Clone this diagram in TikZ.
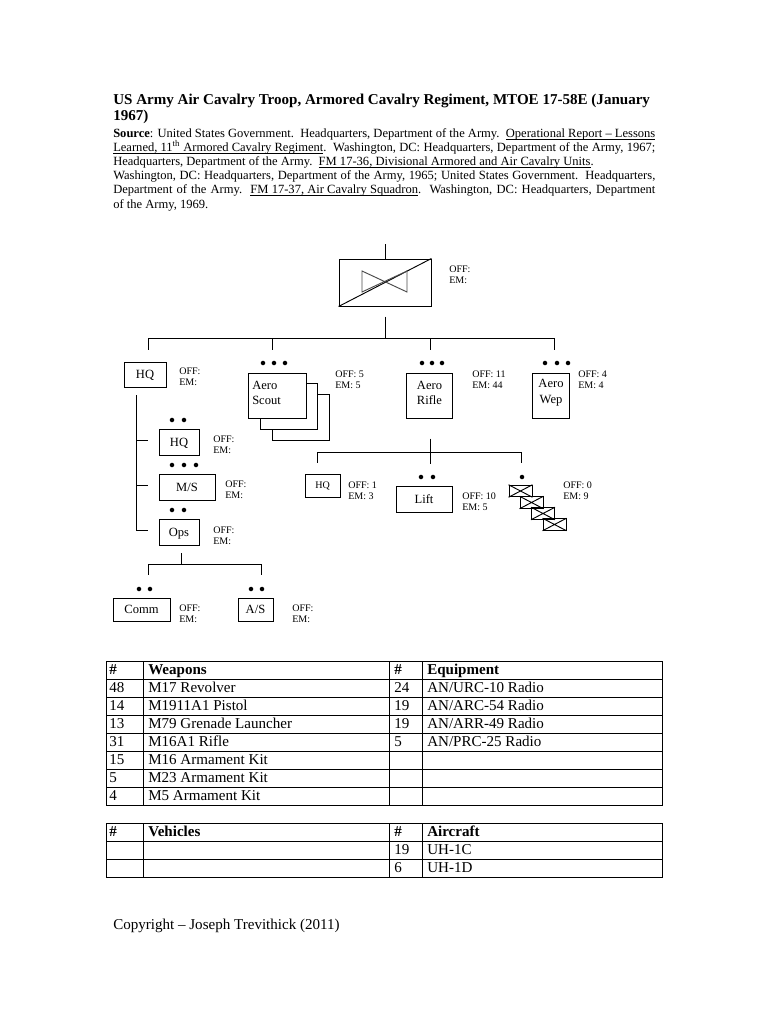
\documentclass[tikz,border=0pt]{standalone}
\usepackage{fontspec}
\setmainfont{Liberation Serif}
\newcommand\myul[1]{\setbox0\hbox{#1}\rlap{\raisebox{-1.7pt}{\rule{\wd0}{0.5pt}}}\box0}
\begin{document}
\begin{tikzpicture}[x=0.796875pt, y=-0.796875pt,
  conn/.style={line width=0.75pt},
  ubox/.style={draw, line width=0.75pt, fill=white, inner sep=0pt, font=\fontsize{10}{12.5}\selectfont, text height=6.8pt, text depth=0pt},
  btxt/.style={inner sep=0pt, font=\fontsize{10}{12.5}\selectfont},
  lbl/.style={anchor=west, inner sep=0pt, align=left, font=\fontsize{8}{9}\selectfont},
  xbox/.style={draw, line width=0.75pt, inner sep=0pt, minimum width=18.3pt, minimum height=9.2pt},
  src/.style={anchor=base west, inner sep=0pt, font=\fontsize{10}{11.5}\selectfont},
  ttl/.style={anchor=base west, inner sep=0pt, font=\bfseries\fontsize{12}{14}\selectfont},
  txt/.style={anchor=base west, inner sep=0pt, font=\fontsize{12}{14}\selectfont},
  htxt/.style={anchor=base west, inner sep=0pt, font=\bfseries\fontsize{12}{14}\selectfont},
  grid/.style={line width=0.6pt}
]
\useasboundingbox (0,0) rectangle (768,1024);

% ---------- header text ----------
\node[ttl] (title1) at (113,105) {US Army Air Cavalry Troop, Armored Cavalry Regiment, MTOE 17-58E (January};
\node[ttl] (title2) at (113,120) {1967)};
\node[src] (s1) at (113,137) {\hbox to 432pt{\textbf{Source}: United States Government.\ \ Headquarters, Department of the Army.\ \ \myul{Operational Report – Lessons}}};
\node[src] (s2) at (113,151.2) {\hbox to 432pt{\myul{Learned, 11\textsuperscript{th} Armored Cavalry Regiment}.\ \ Washington, DC: Headquarters, Department of the Army, 1967;}};
\node[src] (s3) at (113,165.4) {Headquarters, Department of the Army.\ \ \myul{FM 17-36, Divisional Armored and Air Cavalry Units}.};
\node[src] (s4) at (113,179.6) {\hbox to 432pt{Washington, DC: Headquarters, Department of the Army, 1965; United States Government.\ \ Headquarters,}};
\node[src] (s5) at (113,193.8) {\hbox to 432pt{Department of the Army.\ \ \myul{FM 17-37, Air Cavalry Squadron}.\ \ Washington, DC: Headquarters, Department}};
\node[src] (s6) at (113,208) {of the Army, 1969.};

% ---------- troop ----------
\node[ubox, minimum width=73.3pt, minimum height=37.5pt] (troop) at (385,282.5) {};
\draw[conn] (troop.south west) -- (troop.north east);
\draw[line width=0.75pt, gray!60!black] (362,271) -- (362,292) -- (407,271) -- (407,292) -- cycle;
\node[lbl] (troopl) at (449,275) {OFF:\\EM:};
\coordinate (ttop) at (385,244);
\draw[conn] (troop.north) -- (ttop);
\coordinate (tj) at (385,338);
\draw[conn] ([yshift=-8pt]troop.south) -- (tj);
\coordinate (bL) at (148,338);
\coordinate (bS) at (272,338);
\coordinate (bA) at (430,338);
\coordinate (bR) at (554,338);
\draw[conn] (bL) -- (bR);
\draw[conn] (bL) -- ++(0,12);
\draw[conn] (bS) -- ++(0,12);
\draw[conn] (bA) -- ++(0,12);
\draw[conn] (bR) -- ++(0,12);

% ---------- HQ branch ----------
\node[ubox, minimum width=33.5pt, minimum height=19.9pt] (hq) at (145,374.5) {HQ};
\node[lbl] (hql) at (179,377) {OFF:\\EM:};
\coordinate (hv1) at (136,395);
\coordinate (hv2) at (136,530);
\coordinate (ht1) at (136,440);
\coordinate (ht2) at (136,485);
\draw[conn] (hv1) -- (hv2);
\draw[conn] (ht1) -- ++(12,0);
\draw[conn] (ht2) -- ++(12,0);
\draw[conn] (hv2) -- ++(12,0);

\node[ubox, minimum width=31.9pt, minimum height=20.7pt] (subhq) at (179,442) {HQ};
\fill (172,420) circle[radius=1.8pt] (184,420) circle[radius=1.8pt];
\node[lbl] (subhql) at (213,445) {OFF:\\EM:};

\node[ubox, minimum width=44.6pt, minimum height=20.7pt] (ms) at (187,487) {M/S};
\fill (172,465) circle[radius=1.8pt] (184,465) circle[radius=1.8pt] (196,465) circle[radius=1.8pt];
\node[lbl] (msl) at (225,490) {OFF:\\EM:};

\node[ubox, minimum width=31.9pt, minimum height=20.7pt] (ops) at (179,532) {Ops};
\fill (172,510) circle[radius=1.8pt] (184,510) circle[radius=1.8pt];
\node[lbl] (opsl) at (213,535.5) {OFF:\\EM:};

\coordinate (oj) at (181,564);
\coordinate (oL) at (148,564);
\coordinate (oR) at (261,564);
\draw[conn] ([yshift=-6.4pt]ops.south -| oj) -- (oj);
\draw[conn] (oL) -- (oR);
\draw[conn] (oL) -- ++(0,11);
\draw[conn] (oR) -- ++(0,11);

\node[ubox, minimum width=45.4pt, minimum height=18.3pt] (comm) at (141.5,609.5) {Comm};
\fill (139,589) circle[radius=1.8pt] (150,589) circle[radius=1.8pt];
\node[lbl] (comml) at (179,613.5) {OFF:\\EM:};

\node[ubox, minimum width=27.9pt, minimum height=18.3pt] (as) at (255.5,609.5) {A/S};
\fill (251,589) circle[radius=1.8pt] (262,589) circle[radius=1.8pt];
\node[lbl] (asl) at (292,613.5) {OFF:\\EM:};

% ---------- Aero Scout ----------
\node[ubox, minimum width=45.4pt, minimum height=36.7pt] (scout3) at (300.5,417) {};
\node[ubox, minimum width=45.4pt, minimum height=36.7pt] (scout2) at (288.5,406) {};
\node[ubox, minimum width=46.2pt, minimum height=35.9pt] (scout) at (277,395.5) {};
\node[btxt, anchor=west, align=left] (scoutt) at (252,393) {Aero\\Scout};
\fill (263,363) circle[radius=1.8pt] (274,363) circle[radius=1.8pt] (285,363) circle[radius=1.8pt];
\node[lbl] (scoutl) at (335,379.5) {OFF: 5\\EM: 5};

% ---------- Aero Rifle ----------
\node[ubox, minimum width=36.7pt, minimum height=35.9pt] (rifle) at (429,395.5) {};
\node[btxt, align=center] (riflet) at (429.5,393) {Aero\\Rifle};
\fill (422,363) circle[radius=1.8pt] (432,363) circle[radius=1.8pt] (442,363) circle[radius=1.8pt];
\node[lbl] (riflel) at (472,379.5) {OFF: 11\\EM: 44};

% ---------- Aero Wep ----------
\node[ubox, minimum width=29.5pt, minimum height=35.9pt] (wep) at (550.5,395.5) {};
\node[btxt, align=center] (wept) at (551,393) {Aero\\Wep};
\fill (545,363) circle[radius=1.8pt] (557,363) circle[radius=1.8pt] (568,363) circle[radius=1.8pt];
\node[lbl] (wepl) at (578,379.5) {OFF: 4\\EM: 4};

% ---------- rifle sub-units ----------
\coordinate (rj) at (430,452);
\coordinate (rL) at (317,452);
\coordinate (rR) at (521,452);
\draw[conn] ([yshift=-16pt]rifle.south -| rj) -- ++(0,25);
\draw[conn] (rL) -- (rR);
\draw[conn] (rL) -- ++(0,11);
\draw[conn] (rR) -- ++(0,11);

\node[ubox, minimum width=27.9pt, minimum height=18.3pt, font=\fontsize{8}{9}\selectfont, text height=5.4pt] (hq2) at (322.5,485.5) {HQ};
\node[lbl] (hq2l) at (348,490.5) {OFF: 1\\EM: 3};

\node[ubox, minimum width=44.6pt, minimum height=20.7pt] (lift) at (424,499) {Lift};
\fill (421,477) circle[radius=1.8pt] (433,477) circle[radius=1.8pt];
\node[lbl] (liftl) at (462,501.5) {OFF: 10\\EM: 5};

\fill (522,477) circle[radius=1.8pt];
\foreach \n/\cx/\cy in {x1/520.5/491, x2/531.5/502.5, x3/543/513.5, x4/554.5/524.5} {
  \node[xbox] (\n) at (\cx,\cy) {};
  \draw[conn] (\n.north west) -- (\n.south east) (\n.south west) -- (\n.north east);
}
\node[lbl] (xl) at (563,490.5) {OFF: 0\\EM: 9};

% ---------- table 1 ----------
\draw[grid] (106,661) rectangle (662,805);
\foreach \yy in {679,697,715,733,751,769,787} { \draw[grid] (106,\yy) -- (662,\yy); }
\foreach \xx in {143,389,422} { \draw[grid] (\xx,661) -- (\xx,805); }

\node[htxt] (t1h1) at (109,674.5) {\#};
\node[htxt] (t1h2) at (148,674.5) {Weapons};
\node[htxt] (t1h3) at (394,674.5) {\#};
\node[htxt] (t1h4) at (427,674.5) {Equipment};

\node[txt] (a1) at (109,692.5) {48};
\node[txt] (b1) at (148,692.5) {M17 Revolver};
\node[txt] (c1) at (394,692.5) {24};
\node[txt] (d1) at (427,692.5) {AN/URC-10 Radio};
\node[txt] (a2) at (109,710.5) {14};
\node[txt] (b2) at (148,710.5) {M1911A1 Pistol};
\node[txt] (c2) at (394,710.5) {19};
\node[txt] (d2) at (427,710.5) {AN/ARC-54 Radio};
\node[txt] (a3) at (109,728.5) {13};
\node[txt] (b3) at (148,728.5) {M79 Grenade Launcher};
\node[txt] (c3) at (394,728.5) {19};
\node[txt] (d3) at (427,728.5) {AN/ARR-49 Radio};
\node[txt] (a4) at (109,746.5) {31};
\node[txt] (b4) at (148,746.5) {M16A1 Rifle};
\node[txt] (c4) at (394,746.5) {5};
\node[txt] (d4) at (427,746.5) {AN/PRC-25 Radio};
\node[txt] (a5) at (109,764.5) {15};
\node[txt] (b5) at (148,764.5) {M16 Armament Kit};
\node[txt] (a6) at (109,782.5) {5};
\node[txt] (b6) at (148,782.5) {M23 Armament Kit};
\node[txt] (a7) at (109,800.5) {4};
\node[txt] (b7) at (148,800.5) {M5 Armament Kit};

% ---------- table 2 ----------
\draw[grid] (106,823) rectangle (662,877);
\foreach \yy in {841,859} { \draw[grid] (106,\yy) -- (662,\yy); }
\foreach \xx in {143,389,422} { \draw[grid] (\xx,823) -- (\xx,877); }
\node[htxt] (t2h1) at (109,836.5) {\#};
\node[htxt] (t2h2) at (148,836.5) {Vehicles};
\node[htxt] (t2h3) at (394,836.5) {\#};
\node[htxt] (t2h4) at (427,836.5) {Aircraft};
\node[txt] (e1) at (394,854.5) {19};
\node[txt] (f1) at (427,854.5) {UH-1C};
\node[txt] (e2) at (394,872.5) {6};
\node[txt] (f2) at (427,872.5) {UH-1D};

% ---------- footer ----------
\node[txt] (copy) at (113,929) {Copyright – Joseph Trevithick (2011)};
\end{tikzpicture}
\end{document}
